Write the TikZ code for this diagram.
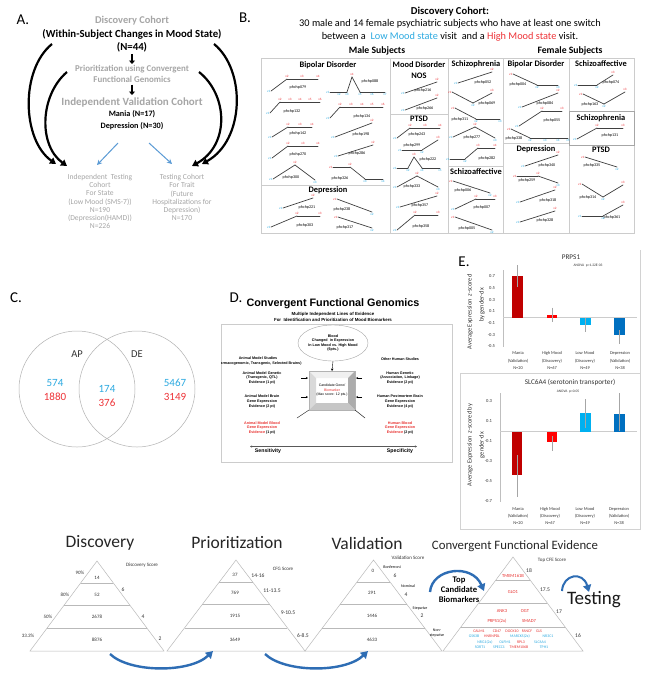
\documentclass[tikz,border=0pt]{standalone}
\usepackage{fontspec}
\setmainfont{Carlito}
\newfontfamily\arialf{Liberation Sans}
\usetikzlibrary{arrows.meta,calc,shapes.geometric}
\definecolor{lblue}{HTML}{2DAAE1}
\definecolor{lred}{HTML}{EE3338}
\definecolor{vB}{HTML}{2DAAE1}
\definecolor{vR}{HTML}{EE3338}
\definecolor{atext}{HTML}{A6A6A6}
\definecolor{arrblue}{HTML}{5B9BD5}
\definecolor{dblue}{HTML}{2E6DB4}
\definecolor{barMania}{HTML}{C00000}
\definecolor{barHigh}{HTML}{FF0000}
\definecolor{barLow}{HTML}{00B0F0}
\definecolor{barDep}{HTML}{0070C0}
\definecolor{dred}{HTML}{E8312F}
\newcommand\fs[2]{\fontsize{#1}{#2}\selectfont}
\tikzset{
 tx/.style={inner sep=0pt,outer sep=0pt,align=center},
 plab/.style={tx,font=\fs{15}{16}},
 agray/.style={tx,text=atext,font=\bfseries\fs{10.4}{11}},
 abold/.style={tx,font=\bfseries\fs{10.8}{12}},
 asmall/.style={tx,text=atext,font=\fs{7.6}{8.2}},
 darr/.style={-{Triangle[length=3.5pt,width=6pt]},line width=2pt},
 carr/.style={-{Triangle[length=6pt,width=7pt]},line width=2.2pt},
 barr/.style={-{Stealth[length=5pt,width=5pt]},line width=1pt,draw=arrblue},
 bbox/.style={draw=gray!40,line width=0.9pt},
 bhead/.style={tx,font=\bfseries\fs{8.4}{9.5}},
 mini/.style={draw=gray!50!black,line width=0.7pt,line cap=round},
 sid/.style={tx,font=\fs{4.1}{4}},
 vis/.style={tx,font=\fs{3.3}{3.5}},
 dtx/.style={tx,font=\arialf\bfseries\fs{3.7}{4.6}},
 dbox/.style={draw,double,double distance=1.1pt,line width=0.55pt},
 ctick/.style={tx,font=\fs{4.6}{5},anchor=east,text=black!80},
 ccat/.style={tx,font=\fs{4.4}{7.2},text=black!80},
 whisk/.style={draw=gray!70,line width=0.5pt},
 trl/.style={draw=gray!55,line width=0.5pt},
 bigt/.style={tx,font=\fs{17.5}{20},text=black!85},
 trn/.style={tx,font=\fs{5}{6},text=black!80},
 trs/.style={tx,font=\fs{5.6}{6},text=black!80},
 blarr/.style={-{Triangle[length=7pt,width=8pt]},line width=2.4pt,draw=dblue},
 gene/.style={tx,font=\fs{3.9}{4}},
}
\newcommand\sj[3]{%
 \node[sid] at (#2) {phchp#1};
 \foreach \x/\y/\c [count=\i, remember=\x as \px (initially 0), remember=\y as \py (initially 0)] in {#3}{%
  \ifnum\i>1 \draw[mini] (\px,\py) -- (\x,\y);\fi
  \ifnum\i=1 \node[vis,text=v\c,anchor=east] at (\x-0.6,\y) {v\i};%
  \else\if\c R\node[vis,text=vR] at (\x,\y-2.8) {v\i};\else\node[vis,text=vB] at (\x,\y+2.8) {v\i};\fi\fi
 }%
}
\newcommand\tri[4]{%
 \draw[trl] (#1,#2) -- (#1-#3,#4) -- (#1+#3,#4) -- cycle;
 \foreach \t in {0.245,0.49,0.745}{\draw[trl] ($(#1,#2)!\t!(#1-#3,#4)$) -- ($(#1,#2)!\t!(#1+#3,#4)$);}%
}
\begin{document}
\begin{tikzpicture}[x=1pt,y=-1pt]
\useasboundingbox[fill=white] (0,0) rectangle (671,675);

% ================= Panel A =================
\node[plab] (la) at (23,20) {A.};
\node[agray] (dc) at (132,21) {Discovery Cohort};
\node[abold] (ws) at (132,34) {(Within-Subject Changes in Mood State)};
\node[abold] (n44) at (132,47) {(N=44)};
\node[agray,font=\bfseries\fs{8.9}{10.8}] (prio) at (132,74) {Prioritization using Convergent\\Functional Genomics};
\node[agray,font=\bfseries\fs{11}{12}] (ivc) at (132,102) {Independent Validation Cohort};
\node[abold,font=\bfseries\fs{8.2}{9}] (man) at (132,114) {Mania (N=17)};
\node[abold,font=\bfseries\fs{8.2}{9}] (dpn) at (132,126) {Depression (N=30)};
\draw[darr] (n44.south) ++(0,2) coordinate (a1s) -- (132,64) coordinate (a1e);
\draw[darr] (prio.south) ++(0,2) coordinate (a2s) -- (132,95) coordinate (a2e);
\node[asmall] (tst) at (100,201.5) {Independent\ \ Testing\\Cohort\\For State\\(Low Mood (SMS-7))\\N=190\\(Depression(HAMD))\\N=226};
\node[asmall] (ttr) at (182,197.5) {Testing Cohort\\For Trait\\(Future\\Hospitalizations for\\Depression)\\N=170};
\coordinate (b1s) at (118,143); \coordinate (b1e) at (97,165);
\coordinate (b2s) at (149,143); \coordinate (b2e) at (172,164);
\draw[barr] (b1s) -- (b1e);
\draw[barr] (b2s) -- (b2e);
\coordinate (c1s) at (52,44); \coordinate (c1e) at (56,164);
\coordinate (c2s) at (67,72); \coordinate (c2e) at (67,166);
\coordinate (c3s) at (214,44); \coordinate (c3e) at (202,164);
\coordinate (c4s) at (199,72); \coordinate (c4e) at (192,166);
\draw[carr] (c1s) .. controls (20,70) and (22,140) .. (c1e);
\draw[carr] (c2s) .. controls (40,95) and (38,145) .. (c2e);
\draw[carr] (c3s) .. controls (246,70) and (245,140) .. (c3e);
\draw[carr] (c4s) .. controls (228,95) and (230,145) .. (c4e);

% ================= Panel B =================
\node[plab] (lb) at (245,18) {B.};
\node[tx,font=\bfseries\fs{10.6}{11}] (bt) at (450,12) {Discovery Cohort:};
\node[tx,font=\fs{10.3}{11}] (bl1) at (450,24) {30 male and 14 female psychiatric subjects who have at least one switch};
\node[tx,font=\fs{10.3}{11}] (bl2) at (450,37) {between a\ \ \textcolor{lblue}{Low Mood state} visit\ \ and a \textcolor{lred}{High Mood state} visit.};
\node[tx,font=\bfseries\fs{9.7}{10}] (msub) at (377,51) {Male Subjects};
\node[tx,font=\bfseries\fs{9.7}{10}] (fsub) at (570,51) {Female Subjects};
\draw[bbox] (261,58) rectangle (390,185);
\draw[bbox] (261,185) rectangle (390,233);
\draw[bbox] (390,58) rectangle (448,114);
\draw[bbox] (390,114) rectangle (448,233);
\draw[bbox] (448,58) rectangle (503,166);
\draw[bbox] (448,166) rectangle (503,233);
\draw[bbox] (503,58) rectangle (569,143);
\draw[bbox] (503,143) rectangle (569,233);
\draw[bbox] (569,58) rectangle (634,111);
\draw[bbox] (569,145) rectangle (634,233);
\draw[bbox,draw=gray!70] (569,111) rectangle (634,145);
\node[bhead] (h1) at (328,65) {Bipolar Disorder};
\node[bhead] (h2) at (328,190) {Depression};
\node[bhead,font=\bfseries\fs{8.4}{10.5}] (h3) at (419,70) {Mood Disorder\\NOS};
\node[bhead] (h4) at (419,119) {PTSD};
\node[bhead] (h5) at (476,64) {Schizophrenia};
\node[bhead] (h6) at (476,172) {Schizoaffective};
\node[bhead] (h7) at (536,64) {Bipolar Disorder};
\node[bhead] (h8) at (536,149) {Depression};
\node[bhead] (h9) at (601,64) {Schizoaffective};
\node[bhead] (h10) at (601,118) {Schizophrenia};
\node[bhead] (h11) at (601,150) {PTSD};
% male bipolar
\sj{079}{298,87}{271/91/B,287/79/R,302/79/R,318/79/R}
\sj{088}{370,81}{330/92/B,339/92/B,347/92/B,352/77/R,360/92/B,372/92/B,385/92/B}
\sj{132}{292,111}{270/113/B,280/102/R,290/102/R,300/102/R,310/102/R,320/102/R}
\sj{134}{362,116}{330/118/B,340/107/R,351/107/R,362/107/R,372/107/R,383/107/R}
\sj{142}{298,133}{272/137/B,288/127/R,300/127/R,312/127/R}
\sj{198}{361,134}{335/137/B,372/123/R}
\sj{270}{298,154}{272/158/B,288/146/R,303/146/R,318/146/R}
\sj{286}{357,153}{338/156/B,373/145/R}
\sj{300}{291,177}{273/179/B,295/165/R,315/180/B}
\sj{326}{340,178}{333/167/R,350/167/R,365/179/B,383/179/B}
% male depression
\sj{221}{307,207}{283/208/B,313/198/R}
\sj{238}{342,209}{337/199/R,372/212/B}
\sj{303}{305,225}{271/227/B,297/216/R,320/216/R}
\sj{317}{345,227}{338/217/R,372/228/B}
% MD NOS
\sj{216}{423,90}{405/93/B,437/82/R}
\sj{266}{425,108}{405/110/B,437/98/R}
% PTSD
\sj{243}{417,134}{397/138/B,410/128/R,425/128/R,440/128/R}
\sj{299}{412,145}{402/150/B,422/150/B,438/140/R}
\sj{222}{428,159}{397/168/B,408/168/B,414/157/R,422/168/B,440/168/B}
\sj{333}{412,186}{397/187/B,417/176/R,438/187/B}
\sj{357}{420,205}{400/207/B,437/196/R}
\sj{358}{421,226}{397/230/B,415/215/R,438/215/R}
% male schizophrenia
\sj{052}{483,82}{458/83/B,492/72/R}
\sj{069}{487,103}{452/92/R,473/103/B,492/93/R}
\sj{311}{460,119}{455/108/R,476/119/B,500/119/B}
\sj{277}{472,137}{453/137/B,475/127/R,495/138/B}
\sj{282}{487,158}{450/159/B,465/159/B,478/148/R,495/148/R}
% male schizoaffective
\sj{006}{463,190}{453/181/R,490/193/B}
\sj{007}{482,207}{455/209/B,476/199/R,495/199/R}
\sj{005}{467,228}{455/217/R,492/230/B}
% female bipolar
\sj{004}{518,84}{513/74/R,537/85/B,558/85/B}
\sj{084}{545,103}{522/107/B,558/93/R}
\sj{055}{552,120}{519/126/B,542/111/R,562/111/R}
\sj{338}{514,138}{511/129/R,530/138/B,545/138/B,558/138/B,568/138/B}
% female depression
\sj{340}{547,165}{525/166/B,558/155/R}
\sj{259}{527,180}{517/176/R,538/176/R,558/183/B}
\sj{318}{548,200}{520/202/B,555/190/R}
\sj{328}{545,220}{520/222/B,555/211/R}
% female schizoaffective
\sj{074}{611,82}{578/85/B,597/85/B,613/75/R}
\sj{163}{590,104}{583/94/R,604/104/B,625/92/R}
% female schizophrenia
\sj{131}{610,135}{577/139/B,597/128/R,623/128/R}
% female PTSD
\sj{335}{592,165}{585/157/R,617/167/B}
\sj{314}{588,197}{582/184/R,603/197/B,623/185/R}
\sj{361}{612,217}{582/216/B,603/216/B,623/205/R}

% ================= Panel C =================
\node[plab] (lc) at (16,298) {C.};
\draw[gray!60,line width=0.5pt] (77,389) circle (58);
\draw[gray!60,line width=0.5pt] (137,389) circle (58);
\node[tx,font=\fs{10.5}{12},text=black!80] (ap) at (77,354) {AP};
\node[tx,font=\fs{10.5}{12},text=black!80] (de) at (137,354) {DE};
\node[tx,font=\fs{11}{14},text=lblue] (c1) at (55,383) {574};
\node[tx,font=\fs{11}{14},text=lred] (c2) at (55,397) {1880};
\node[tx,font=\fs{11}{14},text=lblue] (c3) at (107,389) {174};
\node[tx,font=\fs{11}{14},text=lred] (c4) at (107,403) {376};
\node[tx,font=\fs{11}{14},text=lblue] (c5) at (175,383) {5467};
\node[tx,font=\fs{11}{14},text=lred] (c6) at (175,397) {3149};

% ================= Panel D =================
\node[plab] (ld) at (236,298) {D.};
\begin{scope}
\clip (221,290) rectangle (458,470);
\node[tx,font=\arialf\bfseries\fs{10.8}{12}] (dt) at (333,304) {Convergent Functional Genomics};
\node[dtx,font=\arialf\bfseries\fs{4.4}{5}] (ds1) at (333,314) {Multiple Independent Lines of Evidence};
\node[dtx,font=\arialf\bfseries\fs{4.4}{5}] (ds2) at (333,320) {For\ \ Identification and Prioritization of Mood Biomarkers};
\draw[gray!40,line width=0.5pt] (221,324) rectangle (452,462);
\node[ellipse,draw,gray!70,line width=0.4pt,minimum width=70pt,minimum height=36pt,inner sep=0] (ell) at (333,343) {};
\node[dtx] (elt) at (333,343) {Blood\\Changed\ \ in Expression\\In Low Mood vs. High Mood\\(6pts.)};
\fill[gray!12] (309,371) -- (355,371) -- (348,378) -- (316,378) -- cycle;
\fill[gray!30] (309,371) -- (316,378) -- (316,403) -- (309,410) -- cycle;
\fill[gray!65] (355,371) -- (355,410) -- (348,403) -- (348,378) -- cycle;
\fill[gray!45] (309,410) -- (355,410) -- (348,403) -- (316,403) -- cycle;
\draw[gray!60,line width=0.3pt] (309,371) rectangle (355,410);
\node[dtx,font=\arialf\fs{3.5}{4.5}] (cg) at (332,390.5) {Candidate Gene/\\\textcolor{dred}{Biomarker}\\(Max score: 12 pts.)};
\node[coordinate] (cgN) at (332,371) {};
\draw[-{Stealth[length=2.5pt,width=2.5pt]},line width=0.4pt] (ell.south) -- (cgN);
\node[dtx] (lh) at (258,361) {Animal Model Studies\\(Pharmacogenomic, Transgenic, Selected Brains)};
\node[dtx] (rh) at (400,359) {Other Human Studies};
\draw[dbox] (227,368) rectangle (297,388);
\draw[dbox] (227,392) rectangle (297,411);
\draw[dbox] (227,418) rectangle (297,438);
\draw[dbox] (365,368) rectangle (435,388);
\draw[dbox] (365,392) rectangle (435,411);
\draw[dbox] (365,418) rectangle (435,438);
\node[dtx] (l1) at (262,378) {Animal Model Genetic\\(Transgenic, QTL)\\Evidence (1 pt)};
\node[dtx] (l2) at (262,401.5) {Animal Model Brain\\Gene Expression\\Evidence (2 pt)};
\node[dtx] (l3) at (262,428) {\textcolor{dred}{Animal Model Blood}\\\textcolor{dred}{Gene Expression}\\\textcolor{dred}{Evidence} (1 pt)};
\node[dtx] (r1) at (400,378) {Human Genetic\\(Association, Linkage)\\Evidence (2 pt)};
\node[dtx] (r2) at (400,401.5) {Human Postmortem Brain\\Gene Expression\\Evidence (4 pt)};
\node[dtx] (r3) at (400,428) {\textcolor{dred}{Human Blood}\\\textcolor{dred}{Gene Expression}\\\textcolor{dred}{Evidence} (2 pt)};
\draw[-{Stealth[length=2pt,width=2pt]},line width=0.4pt] (301,378) -- (308,378);
\draw[-{Stealth[length=2pt,width=2pt]},line width=0.4pt] (301,397) -- (308,397);
\draw[-{Stealth[length=2pt,width=2pt]},line width=0.4pt] (362,378) -- (356,378);
\draw[-{Stealth[length=2pt,width=2pt]},line width=0.4pt] (362,397) -- (356,397);
\draw[line width=0.4pt] (297,418) -- (309,410);
\draw[line width=0.4pt] (365,418) -- (355,410);
\draw[{Stealth[length=2pt,width=2pt]}-{Stealth[length=2pt,width=2pt]},line width=0.4pt,gray!70!black] (250,446.5) -- (417,446.5);
\node[dtx,font=\arialf\bfseries\fs{5.2}{6}] (sens) at (268,451.5) {Sensitivity};
\node[dtx,font=\arialf\bfseries\fs{5.2}{6}] (spec) at (400,451.5) {Specificity};
\end{scope}

% ================= Panel E =================
\node[plab] (le) at (464,262) {E.};
\draw[gray!35,line width=0.5pt] (640,250) -- (640,373);
\draw[gray!35,line width=0.5pt] (460,373) rectangle (640,529);
% top chart
\node[tx,font=\fs{7.2}{8},text=black!80] (t1) at (571,257) {PRPS1};
\node[tx,font=\fs{3.6}{4},text=black!80] (t1a) at (588,266) {ANOVA\ \ p=1.22E-03};
\draw[gray!50,line width=0.4pt] (503,270) -- (503,347);
\draw[gray!40,line width=0.4pt] (503,317.5) -- (637,317.5);
\foreach \v/\yy in {0.7/276,0.5/288,0.3/299.7,0.1/311.4,-0.1/323.3,-0.3/334.9,-0.5/346.5}{\node[ctick] at (495,\yy) {\v};}
\node[tx,font=\fs{6.4}{7},rotate=90,text=black!80] (ya1) at (470,312) {Average Expression\ \ \textit{z}-scored};
\node[tx,font=\fs{6.4}{7},rotate=90,text=black!80] (ya2) at (482,305) {by gender-dx};
\fill[barMania] (512,275.7) rectangle (523,317.5);
\fill[barHigh] (547,314.6) rectangle (557,317.5);
\fill[barLow] (580,317.5) rectangle (591,324.5);
\fill[barDep] (614,317.5) rectangle (625,334.9);
\draw[whisk] (517.5,265) -- (517.5,287);
\draw[whisk] (552,307.6) -- (552,321.6);
\draw[whisk] (585.5,317.5) -- (585.5,332);
\draw[whisk] (619.5,330) -- (619.5,343.6);
\node[ccat] (k1) at (518,360.5) {Mania\\(Validation)\\N=20};
\node[ccat] (k2) at (552,360.5) {High Mood\\(Discovery)\\N=67};
\node[ccat] (k3) at (585,360.5) {Low Mood\\(Discovery)\\N=49};
\node[ccat] (k4) at (620,360.5) {Depression\\(Validation)\\N=38};
% bottom chart
\node[tx,font=\fs{7.2}{8},text=black!80] (t2) at (570,382) {SLC6A4 (serotonin transporter)};
\node[tx,font=\fs{3.6}{4},text=black!80] (t2a) at (568,392) {ANOVA\ \ p=0.05};
\draw[gray!50,line width=0.4pt] (500,393) -- (500,502);
\draw[gray!40,line width=0.4pt] (500,431.5) -- (637,431.5);
\foreach \v/\yy in {0.3/401.5,0.1/421.5,-0.1/441.5,-0.3/461.5,-0.5/481.5,-0.7/501.5}{\node[ctick] at (492,\yy) {\v};}
\node[tx,font=\fs{6.4}{7},rotate=90,text=black!80] (yb1) at (470,445) {Average Expression\ \ \textit{z}-scored by};
\node[tx,font=\fs{6.4}{7},rotate=90,text=black!80] (yb2) at (482,445) {gender-dx};
\fill[barMania] (512,431.5) rectangle (522,474.5);
\fill[barHigh] (547,431.5) rectangle (557,441.5);
\fill[barLow] (580,413) rectangle (591,431.5);
\fill[barDep] (614,413.5) rectangle (625,431.5);
\draw[whisk] (517,455) -- (517,497);
\draw[whisk] (552,436) -- (552,450.5);
\draw[whisk] (585.5,399) -- (585.5,428);
\draw[whisk] (619.5,393) -- (619.5,431);
\node[ccat] (m1) at (518,516) {Mania\\(Validation)\\N=20};
\node[ccat] (m2) at (550,516) {High Mood\\(Discovery)\\N=67};
\node[ccat] (m3) at (585,516) {Low Mood\\(Discovery)\\N=49};
\node[ccat] (m4) at (619,516) {Depression\\(Validation)\\N=38};

% ================= Bottom row =================
\node[bigt] (tD) at (100,543) {Discovery};
\node[bigt] (tP) at (237,543) {Prioritization};
\node[bigt] (tV) at (367,543) {Validation};
\node[tx,font=\fs{12.8}{14},text=black!85] (tC) at (515,546) {Convergent Functional Evidence};
\tri{97}{561}{67}{651}
\tri{236}{560}{69}{651}
\tri{373.5}{560}{68.5}{651}
\tri{513}{557}{70}{651}
% discovery
\node[trn] (d1) at (97,578) {14};
\node[trn] (d2) at (97,595) {52};
\node[trn] (d3) at (97,617) {2678};
\node[trn] (d4) at (97,640) {8876};
\node[trn] (p1) at (80,573) {90\%};
\node[trn] (p2) at (65,595) {80\%};
\node[trn] (p3) at (48,617) {50\%};
\node[trn] (p4) at (28,636) {33.3\%};
\node[trn] (ds) at (142,565) {Discovery Score};
\node[trs] (s1) at (123,590) {6};
\node[trs] (s2) at (143,617) {4};
\node[trs] (s3) at (160,639) {2};
% prioritization
\node[trn] (q1) at (235,575) {37};
\node[trn] (q2) at (235,593) {769};
\node[trn] (q3) at (235,616) {1915};
\node[trn] (q4) at (235,640) {3649};
\node[trn] (cfs) at (283,569) {CFG Score};
\node[trs] (g1) at (258,576) {14-16};
\node[trs] (g2) at (272,591) {11-13.5};
\node[trs] (g3) at (288,613) {9-10.5};
\node[trs] (g4) at (303,636) {6-8.5};
% validation
\node[trn] (w1) at (373,571) {0};
\node[trn] (w2) at (372,593) {291};
\node[trn] (w3) at (372,616) {1446};
\node[trn] (w4) at (372,640) {4633};
\node[trn] (vs) at (408,558) {Validation Score};
\node[tx,font=\fs{4}{5}] (vb) at (392,567) {Bonferroni};
\node[trs] (vb6) at (395,576) {6};
\node[tx,font=\fs{4}{5}] (vn) at (408,586) {Nominal};
\node[trs] (vn4) at (406,595) {4};
\node[tx,font=\fs{4}{5}] (vsw) at (420,608) {Stepwise};
\node[trs] (vs2) at (422,616) {2};
\node[tx,font=\fs{4}{5}] (vns) at (437,633) {Non-\\stepwise};
% CFE
\node[trn] (cs) at (552,560) {Top CFE Score};
\node[trs] (e1) at (529,571) {18};
\node[trs] (e2) at (545,590) {17.5};
\node[trs] (e3) at (559,612) {17};
\node[trs] (e4) at (578,636) {16};
\node[gene,font=\fs{4.6}{5},text=dred] (x1) at (513,576) {TMEM161B};
\node[gene,font=\fs{4.6}{5},text=dred] (x2) at (513,592) {GLO1};
\node[gene,font=\fs{4.6}{5},text=dred] (x3) at (502,611) {ANK3};
\node[gene,font=\fs{4.6}{5},text=dred] (x4) at (525,611) {OGT};
\node[gene,font=\fs{4.6}{5},text=dred] (x5) at (497,621) {PRPS1(2x)};
\node[gene,font=\fs{4.6}{5},text=dred] (x6) at (529,621) {SMAD7};
\node[gene,text=dred] (g11) at (479,631) {CALM1};
\node[gene,text=dred] (g12) at (497,631) {CD47};
\node[gene,text=dred] (g13) at (512,631) {DOCK10};
\node[gene,text=dred] (g14) at (527,631) {FANCF};
\node[gene,text=dred] (g15) at (539,631) {GLS};
\node[gene,text=lblue] (g21) at (474,636.5) {GSK3B};
\node[gene,text=dred] (g22) at (492,636.5) {HNRNPDL};
\node[gene,text=lblue] (g23) at (520,636.5) {MARCKS(2x)};
\node[gene,text=lblue] (g24) at (548,636.5) {NR3C1};
\node[gene,text=lblue] (g31) at (485,642) {NRG1(2x)};
\node[gene,text=lblue] (g32) at (505,642) {OLFM1};
\node[gene,text=dred] (g33) at (521,642) {RPL3};
\node[gene,text=lblue] (g34) at (540,642) {SLC6A4};
\node[gene,text=lblue] (g41) at (480,647.5) {SORT1};
\node[gene,text=lblue] (g42) at (499,647.5) {SPECC1};
\node[gene,text=dred] (g43) at (519,647.5) {TMEM106B};
\node[gene,text=lblue] (g44) at (544,647.5) {TPH1};
\node[tx,font=\bfseries\fs{8.6}{10}] (tcb) at (459,590) {Top\\Candidate\\Biomarkers};
\node[tx,font=\fs{19}{20},text=black!90] (testing) at (594,600) {Testing};
% blue curved arrows
\coordinate (u1s) at (110,654); \coordinate (u1e) at (213,651);
\coordinate (u2s) at (265,654); \coordinate (u2e) at (368,651);
\coordinate (u3s) at (430,592); \coordinate (u3e) at (484,591);
\coordinate (u4s) at (562,591); \coordinate (u4e) at (589,592);
\draw[blarr] (u1s) .. controls (130,673) and (190,673) .. (u1e);
\draw[blarr] (u2s) .. controls (285,673) and (345,673) .. (u2e);
\draw[blarr] (u3s) .. controls (432,568) and (472,563) .. (u3e);
\draw[blarr,line width=2pt] (u4s) .. controls (563,574) and (583,571) .. (u4e);
\end{tikzpicture}
\end{document}
